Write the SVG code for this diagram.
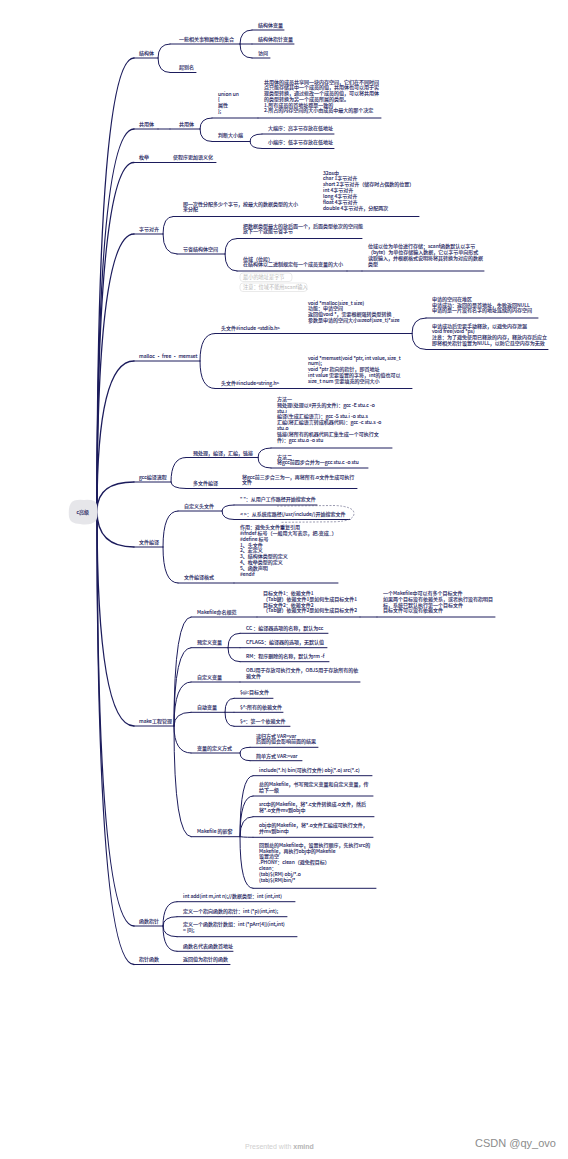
<svg xmlns="http://www.w3.org/2000/svg" width="568" height="1159" viewBox="0 0 568 1159">
<style>
.t{font-family:"Noto Sans CJK SC","Noto Sans",sans-serif;font-size:5px;fill:#1c1c5c;stroke:#1c1c5c;stroke-width:0.12}
.u{stroke:#1c1c5c;stroke-width:1;fill:none;stroke-linecap:round}
.c{stroke:#1c1c5c;stroke-width:1;fill:none;stroke-linecap:round}
.c1{stroke-width:1.35}
.lb{fill:#fff;stroke:#dcdcdc;stroke-width:0.6}
.lt{font-family:"Noto Sans CJK SC","Noto Sans",sans-serif;font-size:5.2px;fill:#b8b8b8}
</style>
<rect width="568" height="1159" fill="#fff"/>
<g id="connectors">
<path class="c c1" d="M94,511 L97,511"/>
<path class="c c1" d="M97,511 Q97,58 134,58"/>
<path class="c c1" d="M97,511 Q97,129 134,129"/>
<path class="c c1" d="M97,511 Q97,162.5 134,162.5"/>
<path class="c c1" d="M97,511 Q97,234 134,234"/>
<path class="c c1" d="M97,511 Q97,361 134,361"/>
<path class="c c1" d="M97,511 Q97,482 134,482"/>
<path class="c c1" d="M97,511 Q97,547 134,547"/>
<path class="c c1" d="M97,511 Q97,726 134,726"/>
<path class="c c1" d="M97,511 Q97,926 134,926"/>
<path class="c c1" d="M97,511 Q97,964.5 134,964.5"/>
<path class="c" d="M158,58 Q158,44 170,44"/>
<path class="c" d="M158,58 Q158,72.5 170,72.5"/>
<path class="c" d="M240,44 Q240,30 252,30"/>
<path class="c" d="M240,44 L252,44"/>
<path class="c" d="M240,44 Q240,58 252,58"/>
<path class="c" d="M158,129 L170,129"/>
<path class="c" d="M200,129 Q200,118 212,118"/>
<path class="c" d="M200,129 Q200,141.5 212,141.5"/>
<path class="c" d="M250,141.5 Q250,134 262,134"/>
<path class="c" d="M250,141.5 Q250,148.5 262,148.5"/>
<path class="c" d="M153,162.5 L168,162.5"/>
<path class="c" d="M163,234 Q163,216.5 173,216.5"/>
<path class="c" d="M163,234 Q163,254 177,254"/>
<path class="c" d="M225,254 Q225,238.5 237,238.5"/>
<path class="c" d="M225,254 Q225,271 237,271"/>
<path class="c" d="M347,271 L362,271"/>
<path class="c" d="M200,361 Q200,333.5 215,333.5"/>
<path class="c" d="M200,361 Q200,388.5 215,388.5"/>
<path class="c" d="M412,333.5 Q412,318 426,318"/>
<path class="c" d="M412,333.5 Q412,349.5 426,349.5"/>
<path class="c" d="M171,482 Q171,457.5 186,457.5"/>
<path class="c" d="M171,482 Q171,488.5 186,488.5"/>
<path class="c" d="M258,457.5 Q258,448 271,448"/>
<path class="c" d="M258,457.5 Q258,468 271,468"/>
<path class="c" d="M163,547 Q163,511 178,511"/>
<path class="c" d="M163,547 Q163,583 178,583"/>
<path class="c" d="M222,511 Q222,505 234,505"/>
<path class="c" d="M222,511 Q222,519.5 234,519.5"/>
<path class="c" d="M174,726 Q174,617 191,617"/>
<path class="c" d="M174,726 Q174,647.7 191,647.7"/>
<path class="c" d="M174,726 Q174,682 191,682"/>
<path class="c" d="M174,726 Q174,712.3 191,712.3"/>
<path class="c" d="M174,726 Q174,753 191,753"/>
<path class="c" d="M174,726 Q174,836.7 191,836.7"/>
<path class="c" d="M360,617 L377,617"/>
<path class="c" d="M228,647.7 Q228,633.3 240,633.3"/>
<path class="c" d="M228,647.7 L240,647.7"/>
<path class="c" d="M228,647.7 Q228,661.7 240,661.7"/>
<path class="c" d="M225,712.3 Q225,698.3 234,698.3"/>
<path class="c" d="M225,712.3 L234,712.3"/>
<path class="c" d="M225,712.3 Q225,726.3 234,726.3"/>
<path class="c" d="M240,753 Q240,747.3 250,747.3"/>
<path class="c" d="M240,753 Q240,760.7 250,760.7"/>
<path class="c" d="M240,836.7 Q240,775.7 253,775.7"/>
<path class="c" d="M240,836.7 Q240,796 253,796"/>
<path class="c" d="M240,836.7 Q240,816.7 253,816.7"/>
<path class="c" d="M240,836.7 Q240,837.3 253,837.3"/>
<path class="c" d="M240,836.7 Q240,888.3 253,888.3"/>
<path class="c" d="M163,926 Q163,901.7 177,901.7"/>
<path class="c" d="M163,926 Q163,916.7 177,916.7"/>
<path class="c" d="M163,926 Q163,936.7 177,936.7"/>
<path class="c" d="M163,926 Q163,951.3 177,951.3"/>
</g>

<g id="root">
<path d="M71,503 Q74,499 84,500 Q96,499 97,505 Q99,515 96,521 Q90,526 80,524 Q70,524 69,517 Q68,507 71,503 Z" fill="#e6e6ea"/>
<text class="t" x="76.5" y="513.8">c高级</text>
</g>

<g id="n-jiegouti"><text class="t" x="139" y="54.8">结构体</text><path class="u" d="M134,58 H158"/></g>
<g id="n-jiegouti-1"><text class="t" x="179" y="40.8">一些相关事物属性的集合</text><path class="u" d="M170,44 H240"/></g>
<g id="n-jiegouti-1a"><text class="t" x="258" y="26.8">结构体变量</text><path class="u" d="M252,30 H284"/></g>
<g id="n-jiegouti-1b"><text class="t" x="258" y="40.8">结构体指针变量</text><path class="u" d="M252,44 H294"/></g>
<g id="n-jiegouti-1c"><text class="t" x="258" y="54.8">访问</text><path class="u" d="M252,58 H270"/></g>
<g id="n-jiegouti-2"><text class="t" x="179" y="68.8">起别名</text><path class="u" d="M170,72.5 H196"/></g>

<g id="n-gongyongti"><text class="t" x="139" y="125.8">共用体</text><path class="u" d="M134,129 H158"/></g>
<g id="n-gongyongti-1"><text class="t" x="179" y="125.8">共用体</text><path class="u" d="M170,129 H200"/></g>
<g id="n-union"><text class="t" x="218" y="95.5"><tspan x="218">union un</tspan><tspan x="218" dy="5.8">{</tspan><tspan x="218" dy="5.8">属性</tspan><tspan x="218" dy="5.8">};</tspan></text><path class="u" d="M212,118 H258"/></g>
<g id="n-union-desc"><text class="t" x="264" y="83.5"><tspan x="264">共用体的成员共享同一块内存空间，它们在不同时间</tspan><tspan x="264" dy="5.75">点只能存储其中一个成员的值，共用体也可以用于实</tspan><tspan x="264" dy="5.75">现类型转换，通过修改一个成员的值，可以将共用体</tspan><tspan x="264" dy="5.75">的类型转换为另一个成员所属的类型。</tspan><tspan x="264" dy="5.75">1.所有成员的首地址都是一致的</tspan><tspan x="264" dy="5.75">2.所占的内存空间的大小由成员中最大的那个决定</tspan></text><path class="u" d="M258,118 H381"/></g>
<g id="n-endian"><text class="t" x="218" y="137.1">判断大小端</text><path class="u" d="M212,141.5 H250"/></g>
<g id="n-endian-big"><text class="t" x="268" y="129.5">大端序：高字节存放在低地址</text><path class="u" d="M262,134 H334"/></g>
<g id="n-endian-little"><text class="t" x="268" y="144">小端序：低字节存放在低地址</text><path class="u" d="M262,148.5 H334"/></g>

<g id="n-meiju"><text class="t" x="139" y="158.8">枚举</text><path class="u" d="M134,162.5 H153"/></g>
<g id="n-meiju-1"><text class="t" x="173" y="159">使程序更加语义化</text><path class="u" d="M168,162.5 H216"/></g>

<g id="n-align"><text class="t" x="139" y="230.8">字节对齐</text><path class="u" d="M134,234 H163"/></g>
<g id="n-align-1"><text class="t" x="183" y="205.8"><tspan x="183">即一次性分配多少个字节，按最大的数据类型的大小</tspan><tspan x="183" dy="5.6">来分配</tspan></text><path class="u" d="M173,216.5 H317"/></g>
<g id="n-align-1a"><text class="t" x="323" y="174.5"><tspan x="323">32os中</tspan><tspan x="323" dy="5.85">char 1字节对齐</tspan><tspan x="323" dy="5.85">short 2字节对齐（储存时占偶数的位置）</tspan><tspan x="323" dy="5.85">int 4字节对齐</tspan><tspan x="323" dy="5.85">long 4字节对齐</tspan><tspan x="323" dy="5.85">float 4字节对齐</tspan><tspan x="323" dy="5.85">double 4字节对齐，分配两次</tspan></text><path class="u" d="M317,216.5 H419"/></g>
<g id="n-align-2"><text class="t" x="183" y="250.5">节省结构体空间</text><path class="u" d="M177,254 H225"/></g>
<g id="n-align-2a"><text class="t" x="243" y="227.5"><tspan x="243">把数据类型最大的放后面一个，后面类型依次的空间能</tspan><tspan x="243" dy="5.8">放下一个就能节省字节</tspan></text><path class="u" d="M237,238.5 H362"/></g>
<g id="n-align-2b"><text class="t" x="243" y="260.8"><tspan x="243">位域（位段）</tspan><tspan x="243" dy="5.6">在结构体以二进制规定每一个成员变量的大小</tspan></text><path class="u" d="M237,271 H347"/>
<rect class="lb" x="240" y="273" width="52" height="8.5" rx="3"/><text class="lt" x="243" y="279">最小的地址是字节</text>
<rect class="lb" x="240" y="283" width="67" height="8.5" rx="3"/><text class="lt" x="243" y="289">注意：位域不能用scanf输入</text></g>
<g id="n-align-2b1"><text class="t" x="368" y="247.5"><tspan x="368">位域以位为单位进行存储；scanf函数默认以字节</tspan><tspan x="368" dy="6">（byte）为单位存储输入数据，它以字节单向形式</tspan><tspan x="368" dy="6">读取输入，并根据格式说明符将其转换为对应的数据</tspan><tspan x="368" dy="6">类型</tspan></text><path class="u" d="M362,271 H484"/></g>

<g id="n-malloc"><text class="t" x="139" y="357.8">malloc · free · memset</text><path class="u" d="M134,361 H200"/></g>
<g id="n-stdlib"><text class="t" x="221" y="329.5">头文件#include &lt;stdlib.h&gt;</text><path class="u" d="M215,333.5 H302"/></g>
<g id="n-malloc-fn"><text class="t" x="308" y="304.5"><tspan x="308">void *malloc(size_t size)</tspan><tspan x="308" dy="5.8">功能：申请空间</tspan><tspan x="308" dy="5.8">返回值void *，需要根据强转类型转换</tspan><tspan x="308" dy="5.8">参数是申请的空间大小sizeof(size_t)*size</tspan></text><path class="u" d="M302,333.5 H412"/></g>
<g id="n-malloc-a"><text class="t" x="432" y="300.8"><tspan x="432">申请的空间在堆区</tspan><tspan x="432" dy="5.7">申请成功：返回的是首地址，失败返回NULL</tspan><tspan x="432" dy="5.7">申请的是一片没有名字的地址连续的内存空间</tspan></text><path class="u" d="M426,318 H538"/></g>
<g id="n-malloc-b"><text class="t" x="432" y="327.5"><tspan x="432">申请成功后需要手动释放，以避免内存泄漏</tspan><tspan x="432" dy="5.8">void free(void *ps)</tspan><tspan x="432" dy="5.8">注意：为了避免使用已释放的内存，释放内存后应立</tspan><tspan x="432" dy="5.8">即将相关指针设置为NULL，以防它悬空内存为无效</tspan></text><path class="u" d="M426,349.5 H548"/></g>
<g id="n-string"><text class="t" x="221" y="385">头文件#include&lt;string.h&gt;</text><path class="u" d="M215,388.5 H302"/></g>
<g id="n-memset"><text class="t" x="308" y="359.5"><tspan x="308">void *memset(void *ptr, int value, size_t</tspan><tspan x="308" dy="5.85">num);</tspan><tspan x="308" dy="5.85">void *ptr 指向的指针，即首地址</tspan><tspan x="308" dy="5.85">int value 需要设置的字符，int的值也可以</tspan><tspan x="308" dy="5.85">size_t num 需要填充的空间大小</tspan></text><path class="u" d="M302,388.5 H412"/></g>

<g id="n-gcc"><text class="t" x="139" y="478.8">gcc编译流程</text><path class="u" d="M134,482 H171"/></g>
<g id="n-gcc-1"><text class="t" x="193" y="454.5">预处理，编译，汇编，链接</text><path class="u" d="M186,457.5 H258"/></g>
<g id="n-gcc-m1"><text class="t" x="277" y="401"><tspan x="277">方法一</tspan><tspan x="277" dy="5.8">预处理(处理以#开头的文件)：gcc -E stu.c -o</tspan><tspan x="277" dy="5.8">stu.i</tspan><tspan x="277" dy="5.8">编译(生成汇编语言)：gcc -S stu.i -o stu.s</tspan><tspan x="277" dy="5.8">汇编(将汇编语言转成机器代码)：gcc -c stu.s -o</tspan><tspan x="277" dy="5.8">stu.o</tspan><tspan x="277" dy="5.8">链接(将所有的机器代码汇集生成一个可执行文</tspan><tspan x="277" dy="5.8">件)：gcc stu.o -o stu</tspan></text><path class="u" d="M271,448 H392"/></g>
<g id="n-gcc-m2"><text class="t" x="277" y="458.5"><tspan x="277">方法二</tspan><tspan x="277" dy="5.6">将gcc前四步合并为一gcc stu.c -o stu</tspan></text><path class="u" d="M271,468 H368"/></g>
<g id="n-gcc-2"><text class="t" x="193" y="484.8">多文件编译</text><path class="u" d="M186,488.5 H236"/></g>
<g id="n-gcc-2a"><text class="t" x="242" y="478.5"><tspan x="242">将gcc前三步合三为一，再将所有.o文件生成可执行</tspan><tspan x="242" dy="5.6">文件</tspan></text><path class="u" d="M236,488.5 H357"/></g>

<g id="n-file"><text class="t" x="139" y="543.8">文件编译</text><path class="u" d="M134,547 H163"/></g>
<g id="n-file-1"><text class="t" x="184" y="507.5">自定义头文件</text><path class="u" d="M178,511 H222"/></g>
<g id="n-file-1a"><text class="t" x="240" y="501.1">&quot; &quot;：从用户工作路径开始搜索文件</text><path class="u" d="M234,505 H317"/></g>
<g id="n-file-1b"><text class="t" x="240" y="515.8">&lt; &gt;：从系统库路径(/usr/include/)开始搜索文件</text><path class="u" d="M234,519.5 H350"/>
<path d="M277,506 L335,505.5 Q354,506.5 354,513.5 Q354,521 335,521.8 L280,522.3" fill="none" stroke="#55557a" stroke-width="0.6" stroke-dasharray="2,1.5"/></g>
<g id="n-file-2"><text class="t" x="184" y="579">文件编译格式</text><path class="u" d="M178,583 H234"/></g>
<g id="n-file-2a"><text class="t" x="240" y="529"><tspan x="240">作用：避免头文件重复引用</tspan><tspan x="240" dy="5.85">#ifndef 标号（一般用大写表示，把.变成_）</tspan><tspan x="240" dy="5.85">#define 标号</tspan><tspan x="240" dy="5.85">1、头文件</tspan><tspan x="240" dy="5.85">2、宏定义</tspan><tspan x="240" dy="5.85">3、结构体类型的定义</tspan><tspan x="240" dy="5.85">4、枚举类型的定义</tspan><tspan x="240" dy="5.85">5、函数声明</tspan><tspan x="240" dy="5.85">#endif</tspan></text><path class="u" d="M234,583 H338"/></g>

<g id="n-make"><text class="t" x="139" y="722.8">make工程管理</text><path class="u" d="M134,726 H174"/></g>
<g id="n-make-1"><text class="t" x="197" y="613.5">Makefile命名规范</text><path class="u" d="M191,617 H257"/></g>
<g id="n-make-1a"><text class="t" x="263" y="595"><tspan x="263">目标文件1：依赖文件1</tspan><tspan x="263" dy="5.8">（Tab键）依赖文件1是如何生成目标文件1</tspan><tspan x="263" dy="5.8">目标文件2：依赖文件2</tspan><tspan x="263" dy="5.8">（Tab键）依赖文件2是如何生成目标文件2</tspan></text><path class="u" d="M257,617 H360"/></g>
<g id="n-make-1a1"><text class="t" x="383" y="595"><tspan x="383">一个Makefile中可以有多个目标文件</tspan><tspan x="383" dy="5.8">如果两个目标没有依赖关系，或者执行没有指明目</tspan><tspan x="383" dy="5.8">标，系统只默认执行第一个目标文件</tspan><tspan x="383" dy="5.8">目标文件可以没有依赖文件</tspan></text><path class="u" d="M377,617 H495"/></g>
<g id="n-make-2"><text class="t" x="197" y="644">预定义变量</text><path class="u" d="M191,647.7 H228"/></g>
<g id="n-make-2a"><text class="t" x="246" y="629.5">CC ：编译器选项的名称，默认为cc</text><path class="u" d="M240,633.3 H328"/></g>
<g id="n-make-2b"><text class="t" x="246" y="643.8">CFLAGS：编译器的选项，无默认值</text><path class="u" d="M240,647.7 H327"/></g>
<g id="n-make-2c"><text class="t" x="246" y="657.8">RM：程序删除的名称，默认为rm -f</text><path class="u" d="M240,661.7 H329"/></g>
<g id="n-make-3"><text class="t" x="197" y="678.5">自定义变量</text><path class="u" d="M191,682 H240"/></g>
<g id="n-make-3a"><text class="t" x="246" y="671.8"><tspan x="246">OBJ用于存放可执行文件，OBJS用于存放所有的依</tspan><tspan x="246" dy="5.7">赖文件</tspan></text><path class="u" d="M240,682 H360"/></g>
<g id="n-make-4"><text class="t" x="197" y="708.5">自动变量</text><path class="u" d="M191,712.3 H225"/></g>
<g id="n-make-4a"><text class="t" x="240" y="694">$@:目标文件</text><path class="u" d="M234,698.3 H273"/></g>
<g id="n-make-4b"><text class="t" x="240" y="708.8">$^:所有的依赖文件</text><path class="u" d="M234,712.3 H283"/></g>
<g id="n-make-4c"><text class="t" x="240" y="722.8">$&lt;：第一个依赖文件</text><path class="u" d="M234,726.3 H290"/></g>
<g id="n-make-5"><text class="t" x="197" y="750">变量的定义方式</text><path class="u" d="M191,753 H240"/></g>
<g id="n-make-5a"><text class="t" x="256" y="737.5"><tspan x="256">递归方式 VAR=var</tspan><tspan x="256" dy="5.6">后面的值会影响前面的结果</tspan></text><path class="u" d="M250,747.3 H318"/></g>
<g id="n-make-5b"><text class="t" x="256" y="757.5">简单方式 VAR:=var</text><path class="u" d="M250,760.7 H302"/></g>
<g id="n-make-6"><text class="t" x="197" y="832.8">Makefile 的嵌套</text><path class="u" d="M191,836.7 H240"/></g>
<g id="n-make-6a"><text class="t" x="259" y="771.8">include(*.h) bin(可执行文件) obj(*.o) src(*.c)</text><path class="u" d="M253,775.7 H372"/></g>
<g id="n-make-6b"><text class="t" x="259" y="785.8"><tspan x="259">总的Makefile，书写预定义变量和自定义变量，传</tspan><tspan x="259" dy="5.8">给下一级</tspan></text><path class="u" d="M253,796 H373"/></g>
<g id="n-make-6c"><text class="t" x="259" y="806"><tspan x="259">src中的Makefile，将*.c文件转换成.o文件，然后</tspan><tspan x="259" dy="5.8">将*.o文件mv到obj中</tspan></text><path class="u" d="M253,816.7 H374"/></g>
<g id="n-make-6d"><text class="t" x="259" y="826.8"><tspan x="259">obj中的Makefile，将*.o文件汇编成可执行文件，</tspan><tspan x="259" dy="5.7">并mv到bin中</tspan></text><path class="u" d="M253,837.3 H373"/></g>
<g id="n-make-6e"><text class="t" x="259" y="846.8"><tspan x="259">回到总的Makefile中，设置执行顺序，先执行src的</tspan><tspan x="259" dy="5.8">Makefile，再执行obj中的Makefile</tspan><tspan x="259" dy="5.8">设置清空</tspan><tspan x="259" dy="5.8">.PHONY：clean（避免假目标）</tspan><tspan x="259" dy="5.8">clean：</tspan><tspan x="259" dy="5.8">(tab)$(RM) obj/*.o</tspan><tspan x="259" dy="5.8">(tab)$(RM)bin/*</tspan></text><path class="u" d="M253,888.3 H376"/></g>

<g id="n-funcptr"><text class="t" x="139" y="922.8">函数指针</text><path class="u" d="M134,926 H163"/></g>
<g id="n-funcptr-1"><text class="t" x="183" y="897.5">int add(int m,int n);//数据类型：int (int,int)</text><path class="u" d="M177,901.7 H295"/></g>
<g id="n-funcptr-2"><text class="t" x="183" y="912.8">定义一个指向函数的指针：int (*p)(int,int);</text><path class="u" d="M177,916.7 H287"/></g>
<g id="n-funcptr-3"><text class="t" x="183" y="926"><tspan x="183">定义一个函数指针数组：int (*pArr[4])(int,int)</tspan><tspan x="183" dy="5.8">= {0};</tspan></text><path class="u" d="M177,936.7 H297"/></g>
<g id="n-funcptr-4"><text class="t" x="183" y="947.5">函数名代表函数首地址</text><path class="u" d="M177,951.3 H233"/></g>
<g id="n-ptrfunc"><text class="t" x="139" y="960.8">指针函数</text><path class="u" d="M134,964.5 H177"/></g>
<g id="n-ptrfunc-1"><text class="t" x="183" y="960.8">返回值为指针的函数</text><path class="u" d="M177,964.5 H230"/></g>

<g id="watermark">
<text x="245" y="1149" font-family="Liberation Sans, Arial, sans-serif" font-size="7" fill="#cfcfcf">Presented with <tspan font-weight="bold" fill="#b5b5b5">xmind</tspan></text>
<text x="475" y="1147" font-family="Liberation Sans, Arial, sans-serif" font-size="11" fill="#8c8c8c">CSDN @qy_ovo</text>
</g>
</svg>
